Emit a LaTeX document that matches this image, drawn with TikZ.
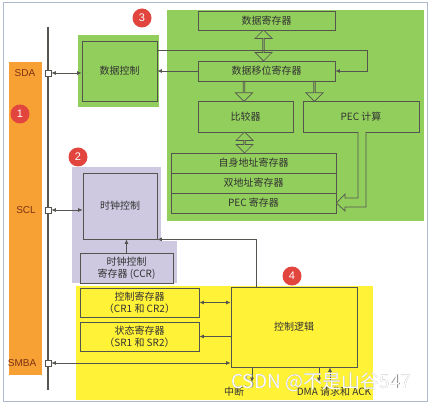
\documentclass[tikz,border=0pt]{standalone}
\usepackage{fontspec}
\setmainfont{Liberation Sans}
\newfontfamily\cjk{Noto Sans CJK SC}
\usetikzlibrary{arrows.meta, positioning, calc, shapes.arrows}

\definecolor{i2cgreen}{RGB}{146,206,92}
\definecolor{clklilac}{RGB}{206,201,225}
\definecolor{logicyellow}{RGB}{255,242,55}
\definecolor{pinorange}{RGB}{247,160,52}
\definecolor{badgered}{RGB}{226,68,62}
\definecolor{linegray}{RGB}{85,85,80}
\definecolor{pinbrown}{RGB}{125,50,20}
\definecolor{frameblue}{RGB}{175,185,205}

\begin{document}
\begin{tikzpicture}[
    x=1pt, y=-1pt,
    line width=0.8pt,
    every node/.style={font=\cjk\fontsize{10}{12}\selectfont, text=black!80, inner sep=0pt, align=center},
    regbox/.style 2 args={draw=linegray, minimum width=#1, minimum height=#2},
    arrow/.style={-{Latex[length=4.5pt, width=4pt]}, draw=linegray, line width=0.7pt},
    twoway/.style={{Latex[length=4.5pt, width=4pt]}-{Latex[length=4.5pt, width=4pt]}, draw=linegray, line width=0.7pt},
    pin/.style={draw=linegray, fill=white, minimum size=6pt, line width=0.7pt},
    pinlabel/.style={font=\fontsize{10}{12}\selectfont, text=pinbrown},
    badge/.style={circle, fill=badgered, text=white, minimum size=19pt, font=\fontsize{11}{13}\selectfont},
    hollow/.style={draw=linegray, fill=i2cgreen, line width=0.7pt},
    updown/.style={hollow, double arrow, rotate=90, minimum height=#1, minimum width=17pt, double arrow head extend=4pt},
    downarrow/.style={hollow, single arrow, rotate=-90, minimum height=#1, minimum width=17pt, single arrow head extend=4pt}
]

\useasboundingbox (0,0) rectangle (430,403);

% === BACKGROUND AREAS ===

% pins (1)
\fill[pinorange] (9,62) rectangle (42,375);

% data part (3)
\fill[i2cgreen] (167,10) rectangle (424,221);
\fill[i2cgreen] (78,35) rectangle (159,107);

% clock part (2)
\fill[clklilac] (72,167) rectangle (161,283);
\fill[clklilac] (72,241) rectangle (177,283);

% control part (4)
\fill[logicyellow] (76,286) rectangle (373,400);

% screenshot frame
\draw[frameblue, line width=0.6pt] (3,2) rectangle (427,401);

% === BUS AND PINS ===
\coordinate (bustop) at (48,27);
\coordinate (busbot) at (48,390);
\draw[linegray, line width=1.1pt] (bustop) -- (busbot);

\node[pin] (sda) at (48,73) {};
\node[pin] (scl) at (48,210) {};
\node[pin] (smba) at (48,363) {};

\node[pinlabel] (sdalbl) at (25,73) {SDA};
\node[pinlabel] (scllbl) at (26,210) {SCL};
\node[pinlabel] (smbalbl) at (22,363) {SMBA};

% === DATA REGISTERS ===
\node[regbox={75}{60}] (datactl) at (119.5,71) {数据控制};

\node[regbox={137}{19}] (datareg) at (266.5,20.5) {数据寄存器};
\node[regbox={137}{20}] (shiftreg) at (266.5,71) {数据移位寄存器};

\node[regbox={95}{31}] (cmp) at (245.5,116.5) {比较器};
\node[regbox={116}{31}] (peccalc) at (361,116.5) {PEC 计算};

\node[regbox={165}{20}] (ownaddr) at (253.5,163) {自身地址寄存器};
\node[regbox={165}{20}] (dualaddr) at (253.5,183) {双地址寄存器};
\node[regbox={165}{20}] (pecreg) at (253.5,203) {PEC 寄存器};

% hollow block arrows
\node[updown=31] (dataxfer) at (263.5,45.5) {};
\node[downarrow=20] (tocmp) at (244,91) {};
\node[downarrow=20] (topec) at (314.5,91) {};
\node[updown=21] (cmpaddr) at (244.5,142.5) {};

\draw[hollow] (358,132) -- (358,198) -- (345,198) -- (345,194)
    -- (pecreg.east) -- (345,211) -- (345,207) -- (366,207) -- (366,132);

% === CLOCK ===
\node[regbox={74}{66}] (clkctl) at (120,206) {时钟控制};
\node[regbox={93}{30}] (ccr) at (126.5,268) {时钟控制\\寄存器 (CCR)};

% === CONTROL ===
\node[regbox={119}{29}] (ctlreg) at (139.5,302.5) {控制寄存器\\（CR1 和 CR2）};
\node[regbox={119}{29}] (stareg) at (139.5,336.5) {状态寄存器\\（SR1 和 SR2）};
\node[regbox={126}{80}] (logic) at (294,327) {控制逻辑};

\node (irqlbl) at (234,392) {中断};
\node (dmalbl) at (334,392) {DMA 请求和 ACK};

% === CONNECTORS ===
\coordinate (loopcorner) at (367,50);
\coordinate (clkturn) at (256,239);
\coordinate (irqend) at (252,382);
\coordinate (dmareq) at (319,382);
\coordinate (dmaack) at (330,381);

\draw[twoway] (sda.east) -- (sda -| datactl.west);
\draw[arrow] (shiftreg.west) -- (shiftreg.west -| datactl.east);
\draw[arrow] (datactl.east |- loopcorner) -- (loopcorner) |- (shiftreg.east);

\draw[twoway] (scl.east) -- (scl -| clkctl.west);
\draw[arrow] (ccr.north) -- (ccr.north |- clkctl.south);
\draw[arrow] (logic.north -| clkturn) |- (clkctl.south east);

\draw[twoway] (ctlreg.east) -- (ctlreg.east -| logic.west);
\draw[arrow] (logic.west |- stareg.east) -- (stareg.east);
\draw[twoway] (smba.east) -- (smba -| logic.west);

\draw[arrow] (logic.south -| irqend) -- (irqend);
\draw[arrow] (logic.south -| dmareq) -- (dmareq);
\draw[arrow] (dmaack) -- (logic.south -| dmaack);

% === BADGES ===
\node[badge] (badge1) at (20,114) {1};
\node[badge] (badge2) at (78,157) {2};
\node[badge] (badge3) at (142,18) {3};
\node[badge] (badge4) at (292,276) {4};

% === WATERMARK ===
\node[font=\cjk\fontsize{19}{22}\selectfont, text=black!45] (csdnshade) at (321.7,382.7) {CSDN @不是山谷547};
\node[font=\cjk\fontsize{19}{22}\selectfont, text=white] (csdn) at (321,382) {CSDN @不是山谷547};

\end{tikzpicture}
\end{document}
